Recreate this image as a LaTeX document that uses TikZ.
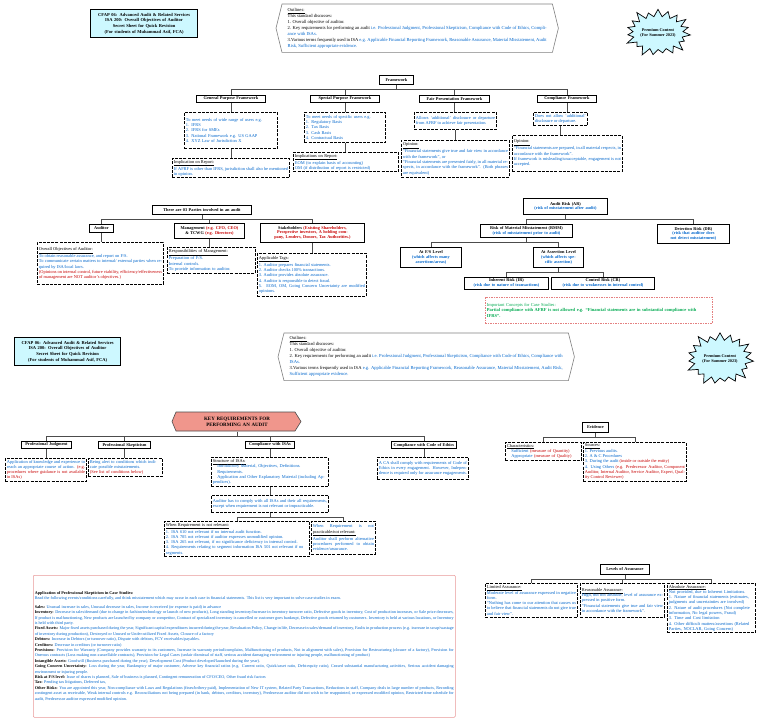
\documentclass[tikz,border=0pt]{standalone}
\usepackage{fontspec}
\setmainfont{Liberation Serif}
\usetikzlibrary{shapes.symbols}
\definecolor{blu}{RGB}{0,102,204}
\definecolor{rd}{RGB}{200,0,0}
\definecolor{gr}{RGB}{0,170,80}
\definecolor{cy}{RGB}{205,248,255}
\definecolor{sal}{RGB}{240,150,140}
\newcommand\B[1]{\textcolor{blu}{#1}}
\newcommand\R[1]{\textcolor{rd}{#1}}
\newcommand\U[1]{\textcolor{black}{\underline{#1}}}
\newcommand\bx[7]{\pgfmathsetmacro\bw{#4-#2}\pgfmathsetmacro\bh{#5-#3}\pgfmathsetmacro\tw{#4-#2-3}%
\node[#6,minimum width=\bw pt,minimum height=\bh pt,text width=\tw pt,anchor=north west,inner sep=1.5pt] (#1) at (#2,#3) {#7};}
\newcommand\bus[3]{\foreach \c in {#3}{\draw[conn] (#1.south) -- (#1.south |- 0,#2) -| (\c.north);}}
\newcommand\dn[2]{\draw[conn] (#1.south) -- (#1.south |- #2.north);}
\tikzset{
 hdr/.style={draw,line width=0.9pt,fill=white,align=center,inner ysep=0.5pt,font=\fontsize{4.3}{4.9}\selectfont\bfseries},
 dbox/.style={draw,dashed,dash pattern=on 3pt off 1.2pt,line width=0.9pt,fill=white,align=justify,text=blu,font=\fontsize{4.4}{5.3}\selectfont},
 conn/.style={draw=black!70,line width=0.7pt},
 ol/.style={align=justify,font=\fontsize{4.6}{6}\selectfont},
}
\begin{document}
\begin{tikzpicture}[x=1pt,y=-1pt]
\useasboundingbox[fill=white] (0,0) rectangle (768,721);
% ---------- part 1 ----------
\bx{t1}{90}{9}{197}{37}{hdr,fill=cy,line width=1.2pt,font=\fontsize{4.5}{5.6}\selectfont\bfseries}{CFAP 06: Advanced Audit \& Related Services\\ISA 200: Overall Objectives of Auditor\\Secret Sheet for Quick Revision\\(For students of Muhammad Asif, FCA)}
\bx{o1}{286}{6}{548}{50}{ol}{\U{Outlines:}\\This standard discusses:\\1. Overall objective of auditor.\\2. Key requirements for performing an audit \B{i.e. Professional Judgment, Professional Skepticism, Compliance with Code of Ethics, Compliance with ISAs.}\\3.Various terms frequently used in ISA \B{e.g. Applicable Financial Reporting Framework, Reasonable Assurance, Material Misstatement, Audit Risk, Sufficient appropriate evidence.}}
\draw[black!50,line width=.6pt] ([xshift=-4pt,yshift=2pt]o1.north west) -- ([xshift=4pt,yshift=2pt]o1.north east) -- ([xshift=10pt]o1.east) -- ([xshift=4pt,yshift=-2pt]o1.south east) -- ([xshift=-4pt,yshift=-2pt]o1.south west) -- ([xshift=-10pt]o1.west) -- cycle;
\node[starburst,draw,fill=cy,line width=.7pt,minimum width=70pt,minimum height=53pt,starburst points=19,starburst point height=10pt,inner sep=0pt,align=center,font=\fontsize{4.2}{5}\selectfont\bfseries] (s1) at (658,33) {Premium Content\\(For Summer 2023)};

\bx{fw}{379}{75}{413}{84}{hdr}{Framework}
\bx{gpf}{196}{95}{265}{102}{hdr}{General Purpose Framework}
\bx{spf}{310}{95}{379}{102}{hdr}{Special Purpose Framework}
\bx{fpf}{419}{95}{489}{102}{hdr}{Fair Presentation Framework}
\bx{cf}{537}{95}{596}{102}{hdr}{Compliance Framework}
\bus{fw}{89}{gpf,spf,fpf,cf}
\bx{gpd}{184}{112}{277}{148}{dbox,align=left}{To meet needs of wide range of users e.g.\\1. IFRS\\2. IFRS for SMEs\\3. National Framework e.g. US GAAP\\4. XYZ Law of Jurisdiction X}
\bx{gpi}{172}{158}{289}{176}{dbox}{\U{Implication on Report:}\\If AFRF is other than IFRS, jurisdiction shall also be mentioned in opinion.}
\bx{spd}{304}{112}{385}{142}{dbox,align=left}{To meet needs of specific users e.g.\\1. Regulatory Basis\\2. Tax Basis\\3. Cash Basis\\4. Contractual Basis}
\bx{spi}{293}{152}{398}{170}{dbox,align=left}{\U{Implications on Report:}\\EOM (to explain basis of accounting)\\OM (if distribution of report is restricted)}
\bx{fpd}{414}{112}{496}{129}{dbox}{Allows `additional' disclosure or departure from AFRF to achieve fair presentation.}
\bx{fpo}{401}{140}{509}{177}{dbox}{\U{Opinion:}\\``Financial statements give true and fair view in accordance with the framework'', or\\``Financial statements are presented fairly, in all material respects, in accordance with the framework''. (Both phrases are equivalent)}
\bx{cfd}{533}{112}{587}{125}{dbox}{Does not allow `additional' disclosure or departure.}
\bx{cfo}{512}{135}{622}{171}{dbox}{\U{Opinion:}\\``Financial statements are prepared, in all material respects, in accordance with the framework''.\\If framework is misleading/unacceptable, engagement is not accepted.}
\foreach \a/\b in {gpf/gpd,gpd/gpi,spf/spd,spd/spi,fpf/fpd,fpd/fpo,cf/cfd,cfd/cfo}{\dn{\a}{\b}}

\bx{pa}{152}{205}{251}{214}{hdr}{There are 03 Parties involved in an audit}
\bx{aud}{89}{224}{113}{232}{hdr}{Auditor}
\bx{mg}{174}{223}{244}{238}{hdr}{Management \R{(e.g. CFO, CEO)}\\\& TCWG \R{(e.g. Directors)}}
\bx{stk}{260}{223}{364}{242}{hdr}{Stakeholders \R{(Existing Shareholders, Prospective investors, A holding company, Lenders, Donors, Tax Authorities.)}}
\bus{pa}{219}{aud,mg,stk}
\bx{ao}{37}{242}{163}{284}{dbox}{\U{Overall Objectives of Auditor:}\\ To obtain reasonable assurance, and report on F/S.\\ To communicate certain matters to internal/ external parties when required by ISA/local laws.\\\R{(Opinions on internal control, future viability, efficiency/effectiveness of management are NOT auditor's objectives.)}}
\bx{mr}{167}{247}{255}{273}{dbox,align=left}{\U{Responsibilities of Management:}\\Preparation of F/S.\\Internal controls.\\To provide information to auditor.}
\bx{tg}{257}{253}{366}{296}{dbox}{\U{Applicable Tags:}\\1. Auditor prepares financial statements.\\2. Auditor checks 100\% transactions.\\3. Auditor provides absolute assurance.\\4. Auditor is responsible to detect fraud.\\5. EOM, OM, Going Concern Uncertainty are modified opinions.}
\foreach \a/\b in {aud/ao,mg/mr,stk/tg}{\dn{\a}{\b}}

\bx{ar}{523}{198}{607}{214}{hdr}{Audit Risk (AR)\\\B{(risk of misstatement after audit)}}
\bx{rmm}{480}{224}{572}{237}{hdr}{Risk of Material Misstatement (RMM)\\\B{(risk of misstatement prior to audit)}}
\bx{dr}{657}{224}{729}{243}{hdr}{Detection Risk (DR)\\\B{(risk that auditor does not detect misstatement)}}
\bus{ar}{219}{rmm,dr}
\bx{fsl}{400}{247}{461}{267}{hdr}{At F/S Level\\\B{(which affects many assertions/areas)}}
\bx{asl}{533}{247}{583}{267}{hdr}{At Assertion Level\\\B{(which affects specific assertion)}}
\bus{rmm}{242}{fsl,asl}
\bx{ir}{464}{277}{548}{288}{hdr}{Inherent Risk (IR)\\\B{(risk due to nature of transactions)}}
\bx{cr}{551}{277}{654}{288}{hdr}{Control Risk (CR)\\\B{(risk due to weaknesses in internal control)}}
\bus{asl}{272}{ir,cr}
\bx{imp}{485}{297}{712}{323}{draw=rd!50,dashed,dash pattern=on 1.5pt off 1pt,line width=.5pt,align=left,text=gr,font=\fontsize{4.5}{5.5}\selectfont}{Important Concepts for Case Studies:\\\textbf{Partial compliance with AFRF is not allowed e.g. ``Financial statements are in substantial compliance with IFRS''.}}

% ---------- part 2 ----------
\bx{t2}{14}{337}{120}{365}{hdr,fill=cy,line width=1.2pt,font=\fontsize{4.5}{5.6}\selectfont\bfseries}{CFAP 06: Advanced Audit \& Related Services\\ISA 200: Overall Objectives of Auditor\\Secret Sheet for Quick Revision\\(For students of Muhammad Asif, FCA)}
\bx{o2}{288}{335}{564}{377}{ol}{\U{Outlines:}\\This standard discusses:\\1. Overall objective of auditor.\\2. Key requirements for performing an audit \B{i.e. Professional Judgment, Professional Skepticism, Compliance with Code of Ethics, Compliance with ISAs.}\\3.Various terms frequently used in ISA \B{e.g. Applicable Financial Reporting Framework, Reasonable Assurance, Material Misstatement, Audit Risk, Sufficient appropriate evidence.}}
\draw[black!50,line width=.6pt] ([xshift=-4pt,yshift=2pt]o2.north west) -- ([xshift=4pt,yshift=2pt]o2.north east) -- ([xshift=10pt]o2.east) -- ([xshift=4pt,yshift=-2pt]o2.south east) -- ([xshift=-4pt,yshift=-2pt]o2.south west) -- ([xshift=-10pt]o2.west) -- cycle;
\node[starburst,draw,fill=cy,line width=.7pt,minimum width=72pt,minimum height=58pt,starburst points=19,starburst point height=10pt,inner sep=0pt,align=center,font=\fontsize{4.2}{5}\selectfont\bfseries] (s2) at (720,359) {Premium Content\\(For Summer 2023)};

\fill[sal] (176,412) -- (295,412) -- (301,421.5) -- (295,431) -- (176,431) -- (172,421.5) -- cycle;
\draw[black!70,line width=.6pt] (176,412) -- (295,412) -- (301,421.5) -- (295,431) -- (176,431) -- (172,421.5) -- cycle;
\bx{kr}{176}{412}{297}{431}{hdr,draw=none,fill=none,font=\fontsize{5}{6.5}\selectfont\bfseries}{KEY REQUIREMENTS FOR PERFORMING AN AUDIT}
\bx{pj}{21}{441}{71}{448}{hdr}{Professional Judgment}
\bx{ps}{98}{441}{150}{448}{hdr}{Professional Skepticism}
\bx{ci}{245}{441}{294}{448}{hdr}{Compliance with ISAs}
\bx{ce}{391}{441}{456}{448}{hdr}{Compliance with Code of Ethics}
\bus{kr}{436}{pj,ps,ci,ce}
\bx{pjd}{5}{458}{86}{479}{dbox}{Application of knowledge and experience to reach an appropriate course of action. \R{(e.g. procedures where guidance is not available in ISAs)}}
\bx{psd}{88}{458}{162}{474}{dbox,align=left}{Being alert to conditions which indicate possible misstatements.\\\R{(See list of conditions below)}}
\bx{isa}{211}{457}{328}{486}{dbox,align=left}{\U{Structure of ISAs:}\\\quad Introductory Material, Objectives, Definitions.\\\quad Requirements.\\\quad Application and Other Explanatory Material (including Appendices).}
\bx{ced}{377}{457}{468}{479}{dbox}{A CA shall comply with requirements of Code of Ethics in every engagement. However, Independence is required only for assurance engagements.}
\foreach \a/\b in {pj/pjd,ps/psd,ci/isa,ce/ced}{\dn{\a}{\b}}
\bx{cpl}{211}{495}{328}{512}{dbox}{Auditor has to comply with all ISAs and their all requirements, except when requirement is not relevant or impracticable.}
\dn{isa}{cpl}
\bx{nr}{164}{521}{309}{554}{dbox,align=left}{\U{When Requirement is not relevant:}\\1. ISA 610 not relevant if no internal audit function.\\2. ISA 705 not relevant if auditor expresses unmodified opinion.\\3. ISA 265 not relevant, if no significance deficiency in internal control.\\4. Requirements relating to segment information ISA 501 not relevant if no segments.}
\bx{np}{311}{521}{375}{554}{dbox}{When Requirement is not \U{practicable/not relevant:}\\Auditor shall perform alternative procedures performed to obtain evidence/assurance.}
\bus{cpl}{517}{nr,np}

\bx{ev}{582}{422}{608}{432}{hdr}{Evidence}
\bx{ch}{505}{442}{581}{458}{dbox,align=left}{\U{Characteristics:}\\\quad Sufficient \R{(measure of Quantity)}\\\quad Appropriate \R{(measure of Quality)}}
\bx{sr}{583}{442}{686}{478}{dbox}{\U{Sources:}\\1. Previous audits.\\2. A \& C Procedures\\3. During the audit \R{(inside or outside the entity)}\\4. Using Others \R{(e.g. Predecessor Auditor, Component Auditor, Internal Auditor, Service Auditor, Expert, Quality Control Reviewer)}}
\bus{ev}{437}{ch,sr}

\bx{lo}{600}{564}{649}{574}{hdr}{Levels of Assurance}
\bx{li}{485}{583}{577}{617}{dbox}{\U{Limited Assurance:}\\\quad Moderate level of assurance expressed in negative form.\\\quad ``Nothing has come to our attention that causes us to believe that financial statements do not give true and fair view''.}
\bx{re}{580}{583}{664}{617}{dbox}{\U{Reasonable Assurance:}\\\quad High, but not absolute, level of assurance expressed in positive form.\\\quad ``Financial statements give true and fair view in accordance with the framework''.}
\bx{ab}{667}{583}{755}{631}{dbox,align=left}{\U{Absolute Assurance:}\\Not provided, due to Inherent Limitations.\\1. Nature of financial statements (estimates, judgments and uncertainties are involved)\\2. Nature of audit procedures (Not complete information, No legal powers, Fraud)\\3. Time and Cost limitation\\4. Other difficult matters/assertions (Related Parties, NOCLAR, Going Concern)}
\bus{lo}{579}{li,re,ab}

\bx{ap}{33}{575}{455}{717}{draw=rd!40,line width=.5pt,rounded corners=1pt,text=blu,align=justify,font=\fontsize{4.2}{5.4}\selectfont}{\textcolor{black}{\textbf{Application of Professional Skepticism in Case Studies:}}\\Read the following events/conditions carefully, and think misstatement which may occur in each case in financial statements. This list is very important to solve case studies in exam.\\[3pt]
\textcolor{black}{\textbf{Sales:}} Unusual increase in sales, Unusual decrease in sales, Income is received (or expense is paid) in advance\\
\textcolor{black}{\textbf{Inventory:}} Decrease in sales/demand (due to change in fashion/technology or launch of new products), Long standing inventory/Increase in inventory turnover ratio, Defective goods in inventory, Cost of production increases, or Sale price decreases, If product is malfunctioning, New products are launched by company or competitor, Contract of specialized inventory is cancelled or customer goes bankrupt, Defective goods returned by customers. Inventory is held at various locations, or Inventory is held with third party.\\
\textcolor{black}{\textbf{Fixed Assets:}} Major fixed assets purchased during the year, Significant capital expenditures incurred during the year, Revaluation Policy, Change in life, Decrease in sales/demand of inventory, Faults in production process (e.g. increase in scrap/wastage of inventory during production), Destroyed or Unused or Under-utilized Fixed Assets, Closure of a factory\\
\textcolor{black}{\textbf{Debtors:}} Increase in Debtors (or turnover ratio), Dispute with debtors, FCY receivables/payables.\\
\textcolor{black}{\textbf{Creditors:}} Decrease in creditors (or turnover ratio)\\
\textcolor{black}{\textbf{Provisions:}} Provision for Warranty (Company provides warranty to its customers, Increase in warranty period/complains, Malfunctioning of products, Not in alignment with sales), Provision for Restructuring (closure of a factory), Provision for Onerous contracts (Loss making non-cancellable contracts), Provision for Legal Cases (unfair dismissal of staff, serious accident damaging environment or injuring people, malfunctioning of product)\\
\textcolor{black}{\textbf{Intangible Assets:}} Goodwill (Business purchased during the year), Development Cost (Product developed/launched during the year).\\
\textcolor{black}{\textbf{Going Concern Uncertainty:}} Loss during the year, Bankruptcy of major customer, Adverse key financial ratios (e.g. Current ratio, Quick/asset ratio, Debt-equity ratio), Ceased substantial manufacturing activities, Serious accident damaging environment or injuring people.\\
\textcolor{black}{\textbf{Risk at F/S level:}} Issue of shares is planned, Sale of business is planned, Contingent remuneration of CFO/CEO, Other fraud risk factors\\
\textcolor{black}{\textbf{Tax:}} Pending tax litigations, Deferred tax,\\
\textcolor{black}{\textbf{Other Risks:}} You are appointed this year, Non-compliance with Laws and Regulations (fines/bribery paid), Implementation of New IT system, Related Party Transactions, Reductions in staff, Company deals in large number of products, Recording contingent asset as receivable, Weak internal controls e.g. Reconciliations not being prepared (in bank, debtors, creditors, inventory), Predecessor auditor did not wish to be reappointed, or expressed modified opinion, Restricted time schedule for audit, Predecessor auditor expressed modified opinion.}
\end{tikzpicture}
\end{document}
